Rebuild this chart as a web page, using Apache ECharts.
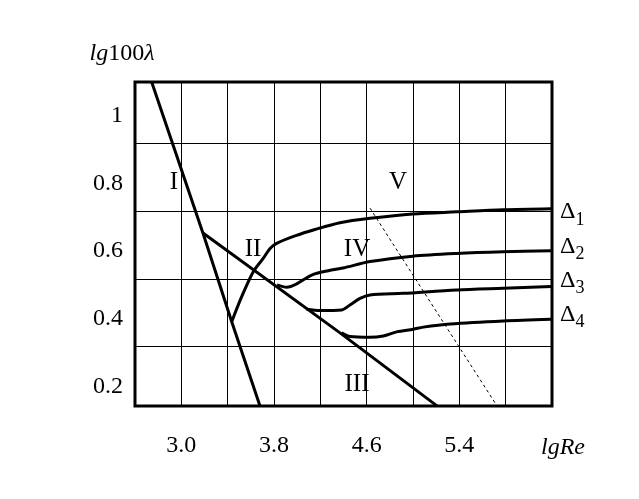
<!DOCTYPE html>
<html>
<head>
<meta charset="utf-8">
<script src="https://cdn.jsdelivr.net/npm/echarts@6/dist/echarts.min.js"></script>
<style>html,body{margin:0;padding:0;background:#fff;}#c{width:639px;height:499px;}</style>
</head>
<body>
<div id="c"></div>
<script>
// ---- data ----
const xTickLabels = [3.0, 3.8, 4.6, 5.4];
const yTickLabels = [0.2, 0.4, 0.6, 0.8, 1.0];
const xGridValues = [3.0, 3.4, 3.8, 4.2, 4.6, 5.0, 5.4, 5.8];
const yGridValues = [0.3, 0.5, 0.7, 0.9];

const lineI = [[2.744, 1.082], [3.19, 0.632], [3.435, 0.373], [3.679, 0.124]];
const lineIII = [[3.19, 0.635], [4.37, 0.340], [5.207, 0.124]];
const boundaryV = [[4.629, 0.709], [5.725, 0.124]];

const delta1 = [[3.435,0.373],[3.521,0.447],[3.621,0.521],[3.708,0.561],[3.766,0.590],[3.823,0.605],[3.981,0.627],[4.154,0.646],[4.370,0.666],[4.629,0.679],[4.997,0.692],[5.377,0.698],[5.780,0.704],[6.191,0.707]];
const delta2 = [[3.826,0.482],[3.910,0.475],[3.996,0.485],[4.125,0.511],[4.269,0.524],[4.396,0.532],[4.629,0.551],[4.997,0.567],[5.377,0.575],[5.780,0.580],[6.191,0.583]];
const delta3 = [[4.082,0.410],[4.197,0.406],[4.385,0.408],[4.456,0.4225],[4.543,0.442],[4.629,0.452],[4.916,0.457],[5.377,0.467],[5.780,0.472],[6.191,0.477]];
const delta4 = [[4.385,0.340],[4.456,0.329],[4.629,0.327],[4.744,0.331],[4.859,0.343],[5.003,0.351],[5.089,0.357],[5.320,0.366],[5.780,0.375],[6.191,0.380]];

const deltaNames = ['1', '2', '3', '4'];
const regionLabels = ['I', 'II', 'III', 'IV', 'V'];

// ---- chart ----
const FONT = 'Liberation Serif';
const chart = echarts.init(document.getElementById('c'), null, {renderer: 'canvas'});

function deltaSeries(data, idx, offY) {
  return {
    type: 'line', data: data, smooth: 0.3, symbol: 'none', silent: true,
    lineStyle: {color: '#000', width: 3},
    endLabel: {
      show: true, distance: 9, offset: [0, offY],
      formatter: '{d|Δ}{s|' + deltaNames[idx] + '}',
      rich: {
        d: {fontFamily: FONT, fontSize: 24, lineHeight: 34, color: '#000'},
        s: {fontFamily: FONT, fontSize: 18, lineHeight: 18, verticalAlign: 'bottom', color: '#000'}
      }
    }
  };
}

const option = {
  animation: false,
  backgroundColor: '#fff',
  grid: {left: 135, top: 82, width: 417, height: 324, show: true, borderWidth: 3, borderColor: '#000'},
  xAxis: {
    type: 'value', min: 2.6, max: 6.2,
    axisLine: {show: false}, axisTick: {show: false}, splitLine: {show: false},
    axisLabel: {customValues: xTickLabels, formatter: v => v.toFixed(1), margin: 28,
      fontFamily: FONT, fontSize: 24, color: '#000'},
    name: '{i|lgRe}', nameLocation: 'end', nameGap: -11,
    nameTextStyle: {padding: [84, 0, 0, 0], rich: {i: {fontFamily: FONT, fontStyle: 'italic', fontSize: 24, color: '#000'}}}
  },
  yAxis: {
    type: 'value', min: 0.1237, max: 1.0822,
    axisLine: {show: false}, axisTick: {show: false}, splitLine: {show: false},
    axisLabel: {customValues: yTickLabels, formatter: v => (Math.abs(v - 1) < 1e-9 ? '1' : v.toFixed(1)), margin: 12,
      fontFamily: FONT, fontSize: 24, color: '#000', verticalAlign: 'top', lineHeight: 12},
    name: '{i|lg}{n|100}{i|λ}', nameLocation: 'end', nameGap: 16,
    nameTextStyle: {align: 'center', padding: [0, 26, 0, 0], rich: {
      i: {fontFamily: FONT, fontStyle: 'italic', fontSize: 24, color: '#000'},
      n: {fontFamily: FONT, fontSize: 24, color: '#000'}
    }}
  },
  series: [
    {
      type: 'line', data: lineI, symbol: 'none', silent: true,
      lineStyle: {color: '#000', width: 3},
      markLine: {
        silent: true, symbol: ['none', 'none'], label: {show: false},
        lineStyle: {color: '#000', width: 1, type: 'solid'},
        data: xGridValues.map(v => ({xAxis: v})).concat(yGridValues.map(v => ({yAxis: v})))
      }
    },
    {type: 'line', data: lineIII, symbol: 'none', silent: true, lineStyle: {color: '#000', width: 3}},
    {type: 'line', data: boundaryV, symbol: 'none', silent: true, lineStyle: {color: '#000', width: 1, type: [3, 3]}},
    deltaSeries(delta1, 0, 3),
    deltaSeries(delta2, 1, -4),
    deltaSeries(delta3, 2, -6),
    deltaSeries(delta4, 3, -5)
  ],
  graphic: [
    [174, 182], [253, 249], [357, 384], [357, 249], [398, 182]
  ].map((p, i) => ({
    type: 'text', x: p[0], y: p[1], silent: true,
    style: {text: regionLabels[i], font: '25px "' + FONT + '"', fill: '#000', textAlign: 'center', textVerticalAlign: 'middle'}
  }))
};
chart.setOption(option);
</script>
</body>
</html>
